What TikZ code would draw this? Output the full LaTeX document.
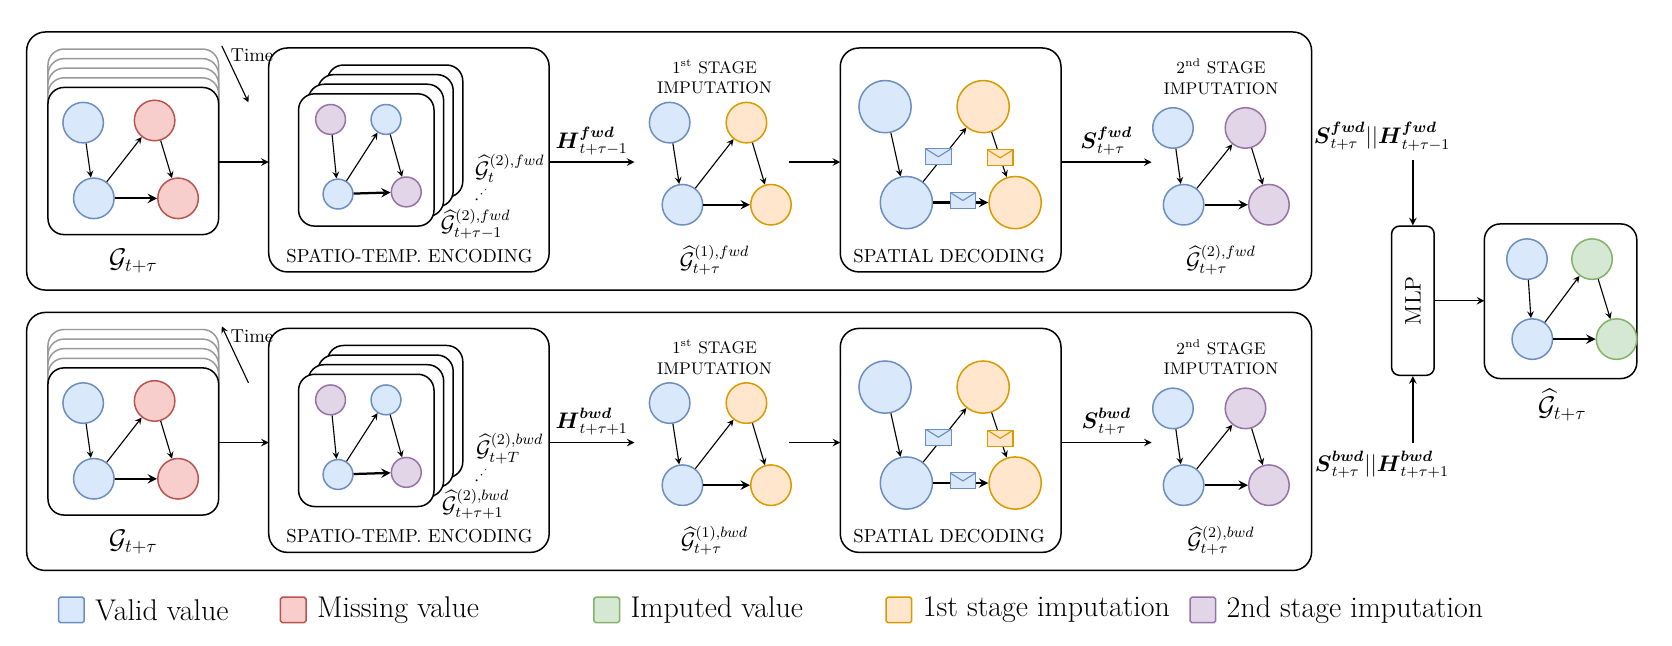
\documentclass[tikz,border=0pt]{standalone}
\usepackage{amsmath,amssymb}
\usepackage{tikz}
\usetikzlibrary{shapes.geometric, arrows}
\definecolor{vdraw}{HTML}{6C8EBF}\definecolor{vfill}{HTML}{DAE8FC}
\definecolor{mdraw}{HTML}{B85450}\definecolor{mfill}{HTML}{F8CECC}
\definecolor{idraw}{HTML}{82B366}\definecolor{ifill}{HTML}{D5E8D4}
\definecolor{odraw}{HTML}{D79B00}\definecolor{ofill}{HTML}{FFE6CC}
\definecolor{pdraw}{HTML}{9673A6}\definecolor{pfill}{HTML}{E1D5E7}
\tikzstyle{valid} = [circle, inner sep=0pt, thick, draw=vdraw, fill=vfill]
\tikzstyle{missing} = [circle, inner sep=0pt, thick, draw=mdraw, fill=mfill]
\tikzstyle{imputed} = [circle, inner sep=0pt, thick, draw=idraw, fill=ifill]
\tikzstyle{first} = [circle, inner sep=0pt, thick, draw=odraw, fill=ofill]
\tikzstyle{second} = [circle, inner sep=0pt, thick, draw=pdraw, fill=pfill]
\tikzstyle{gs} = [minimum size=0.56cm]
\tikzstyle{gm} = [minimum size=0.76cm]
\tikzstyle{gl} = [minimum size=0.98cm]
\tikzstyle{block} = [draw=black, thick, rounded corners=0.35cm]
\tikzstyle{card} = [draw=black, thick, fill=white, rounded corners=0.3cm]
\tikzstyle{ghost} = [draw=black!40, thick, fill=white, rounded corners=0.3cm]
\tikzstyle{edge} = [->, >=stealth, semithick]
\tikzstyle{arrow} = [thick, ->, >=stealth]
\tikzstyle{env} = [rectangle, minimum width=0.48cm, minimum height=0.3cm, inner sep=0pt, semithick,
  path picture={\draw (path picture bounding box.north west) -- (path picture bounding box.center) -- (path picture bounding box.north east);}]
\tikzstyle{legbox} = [rectangle, minimum size=0.48cm, thick, inner sep=0pt, rounded corners=1pt]
\tikzstyle{legtext} = [font=\fontsize{16}{18}\selectfont]
\newcommand{\graphedges}[1]{%
  \draw [edge] (#1a) -- (#1c);
  \draw [edge] (#1c) -- (#1b);
  \draw [edge] (#1b) -- (#1d);
  \draw [edge, very thick] (#1c) -- (#1d);}

\begin{document}
\begin{tikzpicture}[x=0.02cm, y=-0.02cm]
    \useasboundingbox (0,0) rectangle (1568,605);

    \foreach \r/\dy/\tarr/\hs/\ea/\eb/\dir in {f/0/->/{t+\tau-1}/{t}/{t+\tau-1}/fwd, b/263/<-/{t+\tau+1}/{t+T}/{t+\tau+1}/bwd} {
    \begin{scope}[shift={(0,\dy)}]
        \draw [block] (25,30) rectangle (1230,272);
        % input graph
        \foreach \k in {4,3,2,1}
            \draw [ghost] (45,82-9*\k) rectangle (205,220-9*\k);
        \draw [card] (45,82) rectangle (205,220);
        \draw [edge, \tarr] (208,43) -- (233,96);
        \node [right] at (210,52) {Time};
        \node [valid, gm] (in\r a) at (78,115) {};
        \node [missing, gm] (in\r b) at (145,113) {};
        \node [valid, gm] (in\r c) at (88,186) {};
        \node [missing, gm] (in\r d) at (167,186) {};
        \graphedges{in\r}
        \node (inlab\r) at (125,245) {\Large $\mathcal{G}_{t+\tau}$};
        % encoding
        \draw [block] (252,45) rectangle (515,255);
        \foreach \k in {3,2,1}
            \draw [card] (280+9*\k,88-9*\k) rectangle (407+9*\k,212-9*\k);
        \draw [card] (280,88) rectangle (407,212);
        \node [second, gs] (en\r a) at (310,112) {};
        \node [valid, gs] (en\r b) at (362,112) {};
        \node [valid, gs] (en\r c) at (317,182) {};
        \node [second, gs] (en\r d) at (381,180) {};
        \graphedges{en\r}
        \node at (478,158) {\large $\widehat{\mathcal{G}}^{(2),\dir}_{\ea}$};
        \node at (446,210) {\large $\widehat{\mathcal{G}}^{(2),\dir}_{\eb}$};
        \node at (452,184) {$\cdot^{\cdot^{\cdot}}$};
        \node at (384,240) {SPATIO-TEMP. ENCODING};
        \draw [arrow] (205,152) -- (252,152);
        % first stage
        \node [align=center] at (670,72) {\small 1\textsuperscript{st} STAGE\\[-1pt]\small IMPUTATION};
        \node [valid, gm] (fs\r a) at (628,115) {};
        \node [first, gm] (fs\r b) at (700,115) {};
        \node [valid, gm] (fs\r c) at (640,192) {};
        \node [first, gm] (fs\r d) at (723,192) {};
        \graphedges{fs\r}
        \node at (670,244) {\large $\widehat{\mathcal{G}}^{(1),\dir}_{t+\tau}$};
        \draw [arrow] (515,152) -- node [above] {\large $\boldsymbol{H}^{\boldsymbol{\dir}}_{\hs}$} (595,152);
        % spatial decoding
        \draw [block] (788,45) rectangle (995,255);
        \node [valid, gl] (de\r a) at (830,100) {};
        \node [first, gl] (de\r b) at (922,100) {};
        \node [valid, gl] (de\r c) at (850,190) {};
        \node [first, gl] (de\r d) at (952,190) {};
        \graphedges{de\r}
        \node [env, draw=vdraw, fill=vfill] at (880,147) {};
        \node [env, draw=odraw, fill=ofill] at (938,148) {};
        \node [env, draw=vdraw, fill=vfill] at (903,188) {};
        \node at (890,240) {SPATIAL DECODING};
        \draw [arrow] (740,152) -- (788,152);
        % second stage
        \node [align=center] at (1145,72) {\small 2\textsuperscript{nd} STAGE\\[-1pt]\small IMPUTATION};
        \node [valid, gm] (ss\r a) at (1100,120) {};
        \node [second, gm] (ss\r b) at (1168,120) {};
        \node [valid, gm] (ss\r c) at (1110,192) {};
        \node [second, gm] (ss\r d) at (1190,192) {};
        \graphedges{ss\r}
        \node at (1145,244) {\large $\widehat{\mathcal{G}}^{(2),\dir}_{t+\tau}$};
        \draw [arrow] (995,152) -- node [above] {\large $\boldsymbol{S}^{\boldsymbol{\dir}}_{t+\tau}$} (1080,152);
    \end{scope}
    }

    % fusion
    \node (mlp) [draw, thick, rounded corners=0.15cm, minimum width=0.8cm, minimum height=2.8cm] at (1325,282) {};
    \node [rotate=90] at (mlp) {\large MLP};
    \node at (1296,128) {\large $\boldsymbol{S}^{\boldsymbol{fwd}}_{t+\tau}||\boldsymbol{H}^{\boldsymbol{fwd}}_{t+\tau-1}$};
    \node at (1296,436) {\large $\boldsymbol{S}^{\boldsymbol{bwd}}_{t+\tau}||\boldsymbol{H}^{\boldsymbol{bwd}}_{t+\tau+1}$};
    \coordinate (topin) at (1325,150);
    \coordinate (botin) at (1325,415);
    \draw [arrow] (topin) -- (mlp.north);
    \draw [arrow] (botin) -- (mlp.south);
    \draw [card] (1392,210) rectangle (1535,355);
    \node [valid, gm] (outa) at (1432,243) {};
    \node [imputed, gm] (outb) at (1493,243) {};
    \node [valid, gm] (outc) at (1437,318) {};
    \node [imputed, gm] (outd) at (1516,318) {};
    \graphedges{out}
    \draw [arrow] (mlp.east) -- (1392,282);
    \node at (1465,380) {\Large $\widehat{\mathcal{G}}_{t+\tau}$};

    % legend
    \node (lva) [legbox, draw=vdraw, fill=vfill] at (67,572) {};
    \node [legtext, right=2pt] at (lva.east) {Valid value};
    \node (lmi) [legbox, draw=mdraw, fill=mfill] at (275,572) {};
    \node [legtext, right=2pt] at (lmi.east) {Missing value};
    \node (lim) [legbox, draw=idraw, fill=ifill] at (569,572) {};
    \node [legtext, right=2pt] at (lim.east) {Imputed value};
    \node (lfs) [legbox, draw=odraw, fill=ofill] at (843,572) {};
    \node [legtext, right=2pt] at (lfs.east) {1st stage imputation};
    \node (lss) [legbox, draw=pdraw, fill=pfill] at (1128,572) {};
    \node [legtext, right=2pt] at (lss.east) {2nd stage imputation};
\end{tikzpicture}
\end{document}
